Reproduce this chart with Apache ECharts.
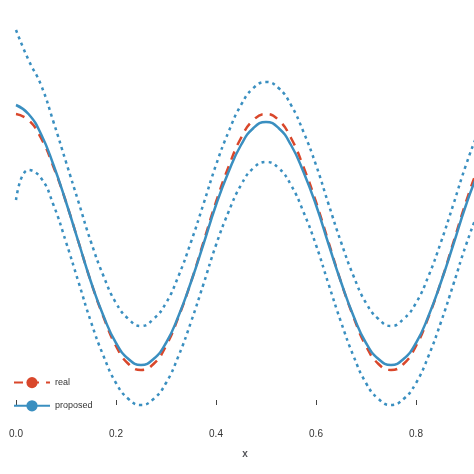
<!DOCTYPE html><html><head><meta charset="utf-8"><script src="https://cdn.jsdelivr.net/npm/echarts@6/dist/echarts.min.js"></script></head><body style="margin:0"><div id="c" style="width:474px;height:474px"></div><script>
const xs=[];for(let k=0;k<=38;k++)xs.push(+(k*0.025).toFixed(3));
const real=[2.86,2.80,2.62,2.33,1.98,1.58,1.18,0.83,0.54,0.36,0.30,0.36,0.54,0.83,1.18,1.58,1.98,2.33,2.62,2.80,2.86,2.80,2.62,2.33,1.98,1.58,1.18,0.83,0.54,0.36,0.30,0.36,0.54,0.83,1.18,1.58,1.98,2.33,2.62];
const proposed=[2.95,2.86,2.66,2.35,1.98,1.58,1.18,0.84,0.57,0.41,0.35,0.41,0.57,0.84,1.18,1.56,1.95,2.28,2.55,2.72,2.78,2.72,2.55,2.28,1.95,1.56,1.18,0.84,0.57,0.41,0.35,0.41,0.57,0.84,1.18,1.56,1.95,2.28,2.55];
const upper=[3.70,3.40,3.15,2.78,2.38,1.98,1.58,1.24,0.97,0.81,0.74,0.81,0.97,1.24,1.58,1.96,2.35,2.68,2.95,3.12,3.18,3.12,2.95,2.68,2.35,1.96,1.58,1.24,0.97,0.81,0.74,0.81,0.97,1.24,1.58,1.96,2.35,2.68,2.95];
const lower=[2.00,2.30,2.22,1.95,1.58,1.18,0.78,0.44,0.17,0.01,-0.05,0.01,0.17,0.44,0.78,1.16,1.55,1.88,2.15,2.32,2.38,2.32,2.15,1.88,1.55,1.16,0.78,0.44,0.17,0.01,-0.05,0.01,0.17,0.44,0.78,1.16,1.55,1.88,2.15];
const xTicks=[0,0.2,0.4,0.6,0.8];
const pair=a=>a.map((v,i)=>[xs[i],v]);
const blue='#3a8fc0',red='#d9472b';
const ch=echarts.init(document.getElementById('c'));
ch.setOption({animation:false,
grid:{left:16,right:0,top:0,bottom:59},
legend:{orient:'vertical',left:8,top:372,itemWidth:36,itemGap:12,textStyle:{fontSize:9,color:'#333'},
 data:['real','proposed']},
xAxis:{type:'value',min:0,max:0.916,interval:0.2,name:'x',nameLocation:'middle',nameGap:34,nameTextStyle:{fontSize:10,fontWeight:'bold'},
 axisLine:{show:false},axisTick:{show:true,customValues:xTicks,lineStyle:{color:'#444'}},splitLine:{show:false},
 axisLabel:{fontSize:10,color:'#333',margin:14,customValues:xTicks,formatter:v=>v.toFixed(1)}},
yAxis:{type:'value',min:-0.15,max:4,show:false},
series:[
{name:'upper',type:'line',data:pair(upper),smooth:true,symbol:'none',lineStyle:{color:blue,width:2.5,type:[3,4]}},
{name:'lower',type:'line',data:pair(lower),smooth:true,symbol:'none',lineStyle:{color:blue,width:2.5,type:[3,4]}},
{name:'real',type:'line',data:pair(real),smooth:true,symbol:'none',itemStyle:{color:red},lineStyle:{color:red,width:2.5,type:[9,7]}},
{name:'proposed',type:'line',data:pair(proposed),smooth:true,symbol:'none',itemStyle:{color:blue},lineStyle:{color:blue,width:2.5}}
]});
</script></body></html>
